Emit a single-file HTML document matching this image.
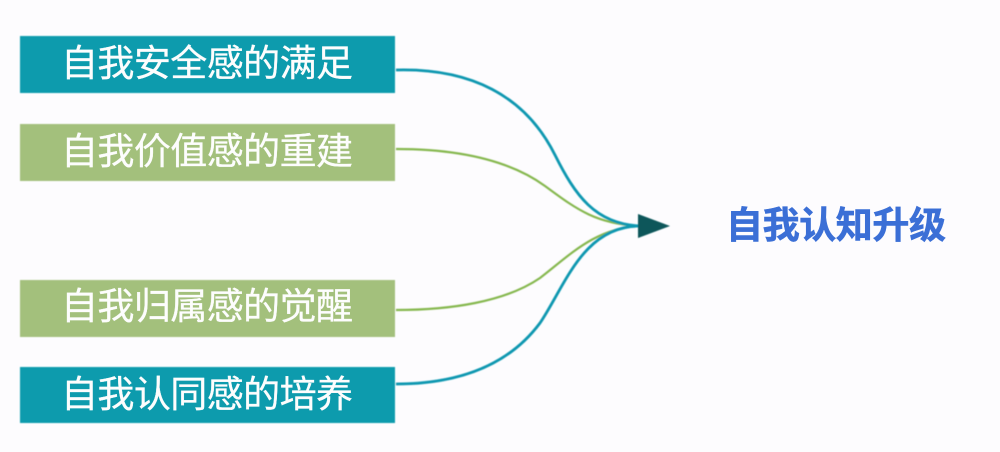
<!DOCTYPE html>
<html><head><meta charset="utf-8"><style>
html,body{margin:0;padding:0;width:1000px;height:452px;overflow:hidden;background:#fdfcfe}
svg{display:block;position:absolute;left:0;top:0}
</style></head><body>
<svg width="1000" height="452" viewBox="0 0 1000 452" xmlns="http://www.w3.org/2000/svg">
<defs><filter id="b" x="-5%" y="-5%" width="110%" height="110%"><feGaussianBlur stdDeviation="0.4"/></filter></defs>
<rect width="1000" height="452" fill="#fdfcfe"/>
<g filter="url(#b)">
<rect x="20" y="36" width="375" height="57" fill="#0e9bad"/>
<rect x="20" y="124" width="375" height="57" fill="#a3c07c"/>
<rect x="20" y="280" width="375" height="57" fill="#a3c07c"/>
<rect x="20" y="367" width="375" height="56" fill="#0e9bad"/>
<g fill="none">
<path d="M396 149C450 149 505 157 545 186C575 208 595 224 640 226" stroke="#86b84f" stroke-width="2.200"/>
<path d="M396 310C450 310 505 302 540 278C570 255 595 228 640 226" stroke="#86b84f" stroke-width="2.200"/>
<path d="M396 70C470 68 525 95 555 155C575 195 595 224 640 226" stroke="#0a97b0" stroke-width="2.800"/>
<path d="M396 384C450 384 505 370 540 323C565 286 583 226 640 226" stroke="#0a97b0" stroke-width="2.800"/>
</g>
<polygon points="638,214 670,226 638,238" fill="#07565a"/>
</g>
<g font-family="'Liberation Sans','Noto Sans CJK SC',sans-serif" font-size="37" fill="#fdfdfd" stroke="#fdfdfd" stroke-width="0.300" text-anchor="middle">
<text x="207" y="76" textLength="292" lengthAdjust="spacing">自我安全感的满足</text>
<text x="207" y="164" textLength="292" lengthAdjust="spacing">自我价值感的重建</text>
<text x="207" y="319" textLength="292" lengthAdjust="spacing">自我归属感的觉醒</text>
<text x="207" y="407" textLength="292" lengthAdjust="spacing">自我认同感的培养</text>
</g>
<text x="836" y="238" font-family="'Liberation Sans','Noto Sans CJK SC',sans-serif" font-size="37" font-weight="700" fill="#3b6fd6" stroke="#3b6fd6" stroke-width="0.600" text-anchor="middle" textLength="220" lengthAdjust="spacing">自我认知升级</text>
</svg>
</body></html>
